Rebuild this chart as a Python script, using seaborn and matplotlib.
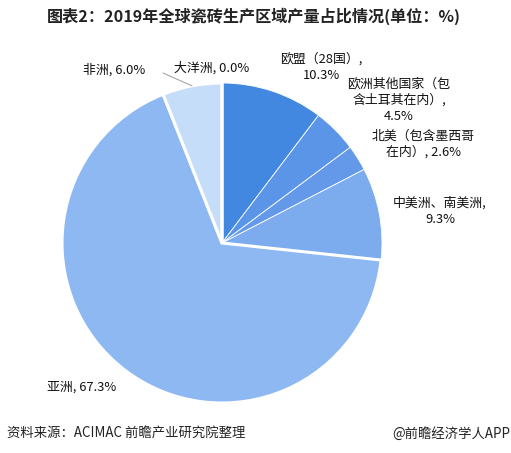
import numpy as np
import matplotlib
matplotlib.use("Agg")
import matplotlib.pyplot as plt
import seaborn as sns

sns.set_theme(style="white")
plt.rcParams['font.family'] = ['Noto Sans CJK SC', 'DejaVu Sans']

# ---- data ----
regions = ["欧盟（28国）", "欧洲其他国家（包含土耳其在内）", "北美（包含墨西哥在内）",
           "中美洲、南美洲", "亚洲", "非洲", "大洋洲"]
shares = [10.3, 4.5, 2.6, 9.3, 67.3, 6.0, 0.0]
label_texts = ["欧盟（28国）,\n10.3%", "欧洲其他国家（包\n含土耳其在内）,\n4.5%",
               "北美（包含墨西哥\n在内）, 2.6%", "中美洲、南美洲,\n9.3%",
               "亚洲, 67.3%", "非洲, 6.0%", "大洋洲, 0.0%"]
colors = ["#4288E0", "#5A95E7", "#6399E8", "#7CACEE", "#8DB8F2", "#C6DDF9", "#DCE9FB"]
edge_widths = [0.6, 0.6, 0.6, 0.6, 2.2, 2.2, 2.2]

W, H = 511, 453
fig = plt.figure(figsize=(W / 100, H / 100), dpi=100)
fig.patch.set_facecolor("white")

def fx(px):
    return px / W

def fy(py):
    return 1 - py / H

cx, cy, r = 222, 243, 160
ax = fig.add_axes([fx(cx - r), fy(cy + r), 2 * r / W, 2 * r / H])
wedges, _ = ax.pie(shares, colors=colors, startangle=90, counterclock=False,
                   wedgeprops=dict(edgecolor="white", linewidth=1.0))
for w, lw in zip(wedges, edge_widths):
    w.set_linewidth(lw)
ax.set_xlim(-1, 1)
ax.set_ylim(-1, 1)
ax.set_aspect("auto")
ax.axis("off")

# label positions (pixel centres)
pos = [(321, 67), (399, 100), (423, 144), (440, 211), (82, 387), (114, 70), (212, 68)]
for txt, (px, py) in zip(label_texts, pos):
    fig.text(fx(px), fy(py), txt, ha="center", va="center", fontsize=9.3,
             linespacing=1.3, color="#111111")

# leader line for 非洲
w = wedges[5]
mid = np.deg2rad((w.theta1 + w.theta2) / 2)
ax.annotate("", xy=(np.cos(mid), np.sin(mid)), xycoords="data",
            xytext=(fx(163), fy(73)), textcoords="figure fraction",
            arrowprops=dict(arrowstyle="-", color="#A6A6A6", lw=0.8,
                            shrinkA=0, shrinkB=0))

fig.text(0.497, fy(16), "图表2：2019年全球瓷砖生产区域产量占比情况(单位：%)",
         ha="center", va="center", fontsize=11.6, fontweight="bold", color="#222222")
fig.text(fx(7), fy(434), "资料来源：ACIMAC 前瞻产业研究院整理", ha="left", va="center",
         fontsize=9.6, color="#222222")
fig.text(fx(510), fy(434), "@前瞻经济学人APP", ha="right", va="center",
         fontsize=9.6, color="#222222")

fig.savefig("out.png", dpi=100, facecolor="white")
